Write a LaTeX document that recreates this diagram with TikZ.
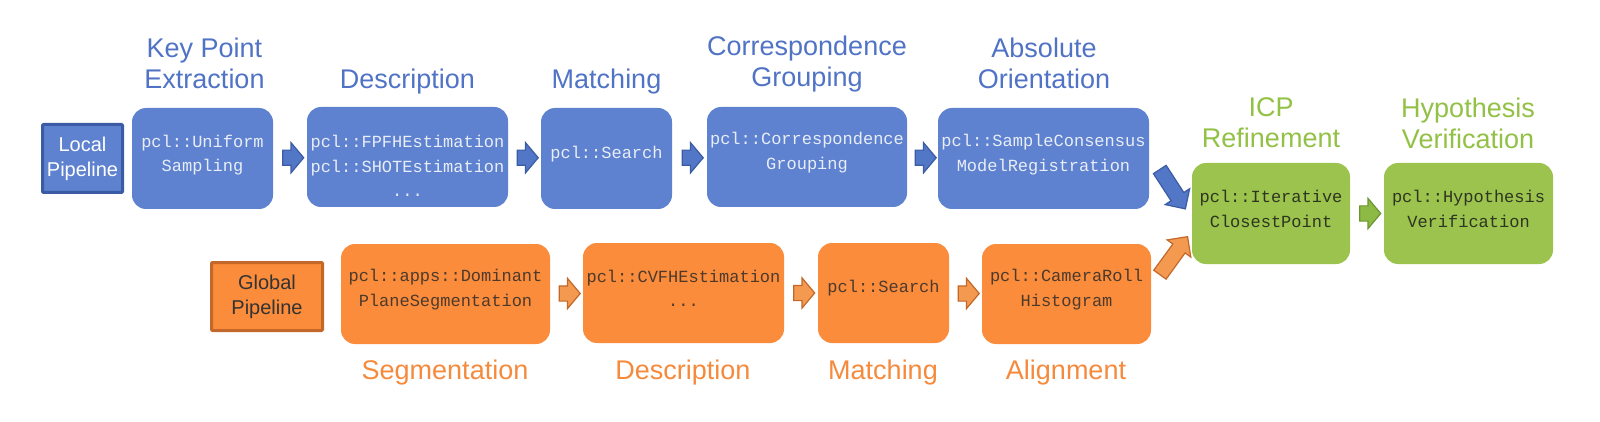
\documentclass[tikz,border=0pt]{standalone}
\usepackage{fontspec}
\setmainfont{Liberation Sans}
\setmonofont{Liberation Mono}
\usetikzlibrary{shapes.arrows,calc}
\definecolor{bfill}{HTML}{5E82CF}
\definecolor{bdark}{HTML}{3B5BA5}
\definecolor{barr}{HTML}{5277C6}
\definecolor{btitle}{HTML}{5073C6}
\definecolor{btxt}{HTML}{E8EDF7}
\definecolor{ofill}{HTML}{FA8C3B}
\definecolor{odark}{HTML}{C4672A}
\definecolor{oarr}{HTML}{F39A50}
\definecolor{otitle}{HTML}{F68A3C}
\definecolor{otxt}{HTML}{4D3A2C}
\definecolor{gfill}{HTML}{9BC34E}
\definecolor{gdark}{HTML}{6B9630}
\definecolor{garr}{HTML}{8DBA45}
\definecolor{gtitle}{HTML}{92C146}
\definecolor{gtxt}{HTML}{2E3520}
\begin{document}
\begin{tikzpicture}[x=1pt,y=-1pt,
  bx/.style={rounded corners=14pt, inner sep=0pt, draw=none},
  bbox/.style={bx, fill=bfill},
  obox/.style={bx, fill=ofill},
  gbox/.style={bx, fill=gfill},
  mono/.style={font=\ttfamily\fontsize{17}{24.5}\selectfont, align=center, inner sep=0pt},
  btext/.style={mono, text=btxt},
  otext/.style={mono, text=otxt},
  gtext/.style={mono, text=gtxt},
  title/.style={font=\fontsize{27}{31}\selectfont, align=center, inner sep=0pt},
  ptext/.style={font=\fontsize{20}{25}\selectfont, align=center, inner sep=0pt},
  arr/.style={single arrow, line width=1.2pt, minimum height=21pt,
    inner xsep=0pt, inner ysep=7pt, text height=0pt, text depth=0pt,
    single arrow head extend=7.5pt, single arrow tip angle=100},
  barrow/.style={arr, draw=bdark, fill=barr},
  oarrow/.style={arr, draw=odark, fill=oarr},
  garrow/.style={arr, draw=gdark, fill=garr},
  darr/.style={single arrow, line width=1.2pt, minimum height=47pt,
    inner xsep=0pt, inner ysep=7pt, text height=0pt, text depth=0pt,
    single arrow head extend=7pt, single arrow tip angle=90}
]
\fill[white] (0,0) rectangle (1600,422);
\useasboundingbox (0,0) rectangle (1600,422);

% local pipeline row
\node[draw=bdark, line width=3pt, fill=bfill, minimum width=80pt, minimum height=68pt, inner sep=0pt, rounded corners=1pt] (lp) at (82.5,158.5) {};
\node[ptext, text=white] at (lp.center) {Local\\Pipeline};

\node[bbox, minimum width=141pt, minimum height=101pt] (b1) at (202.5,158.5) {};
\node[bbox, minimum width=201pt, minimum height=100pt] (b2) at (407.5,157) {};
\node[bbox, minimum width=131pt, minimum height=101pt] (b3) at (606.5,158.5) {};
\node[bbox, minimum width=200pt, minimum height=100pt] (b4) at (807,157) {};
\node[bbox, minimum width=211pt, minimum height=101pt] (b5) at (1043.5,158.5) {};

\node[btext] at ($(b1.center)+(0,-3.5)$) {pcl::Uniform\\Sampling};
\node[btext] at ($(b2.center)+(0,9)$) {pcl::FPFHEstimation\\pcl::SHOTEstimation\\...};
\node[btext] at ($(b3.center)+(0,-4)$) {pcl::Search};
\node[btext] at ($(b4.center)+(0,-4.5)$) {pcl::Correspondence\\Grouping};
\node[btext] at ($(b5.center)+(0,-4)$) {pcl::SampleConsensus\\ModelRegistration};

\node[title, text=btitle] at (204.5,63.5) {Key Point\\Extraction};
\node[title, text=btitle] at (407.5,82) {Description};
\node[title, text=btitle] at (606.5,82) {Matching};
\node[title, text=btitle] at (807,64) {Correspondence\\Grouping};
\node[title, text=btitle] at (1044,63.5) {Absolute\\Orientation};

\node[barrow] at ($(b1.east)!0.5!(b2.west)$) {};
\node[barrow] at ($(b2.east)!0.5!(b3.west)$) {};
\node[barrow] at ($(b3.east)!0.5!(b4.west)$) {};
\node[barrow] at ($(b4.east)!0.5!(b5.west)$) {};

% refinement / verification
\node[gbox, minimum width=158pt, minimum height=101pt] (icp) at (1271,213.5) {};
\node[gbox, minimum width=169pt, minimum height=101pt] (hv) at (1468.5,213.5) {};
\node[gtext] at ($(icp.center)+(0,-4.5)$) {pcl::Iterative\\ClosestPoint};
\node[gtext] at ($(hv.center)+(0,-4.5)$) {pcl::Hypothesis\\Verification};
\node[title, text=gtitle] at (1271,123) {ICP\\Refinement};
\node[title, text=gtitle] at (1468,123) {Hypothesis\\Verification};
\node[garrow] at ($(icp.east)!0.5!(hv.west)$) {};

% global pipeline row
\node[draw=odark, line width=3pt, fill=ofill, minimum width=111pt, minimum height=68pt, inner sep=0pt, rounded corners=1pt] (gp) at (267,296.5) {};
\node[ptext, text=black!80] at (gp.center) {Global\\Pipeline};

\node[obox, minimum width=209pt, minimum height=100pt] (g1) at (445.5,294) {};
\node[obox, minimum width=201pt, minimum height=100pt] (g2) at (683.5,293) {};
\node[obox, minimum width=131pt, minimum height=100pt] (g3) at (883.5,293) {};
\node[obox, minimum width=169pt, minimum height=100pt] (g4) at (1066.5,294) {};

\node[otext] at ($(g1.center)+(0,-4.5)$) {pcl::apps::Dominant\\PlaneSegmentation};
\node[otext] at ($(g2.center)+(0,-4.5)$) {pcl::CVFHEstimation\\...};
\node[otext] at ($(g3.center)+(0,-5)$) {pcl::Search};
\node[otext] at ($(g4.center)+(0,-4.5)$) {pcl::CameraRoll\\Histogram};

\node[title, text=otitle] at (445,373) {Segmentation};
\node[title, text=otitle] at (683,373) {Description};
\node[title, text=otitle] at (883,373) {Matching};
\node[title, text=otitle] at (1066,373) {Alignment};

\node[oarrow] at ($(g1.east)!0.5!(g2.west)$) {};
\node[oarrow] at ($(g2.east)!0.5!(g3.west)$) {};
\node[oarrow] at ($(g3.east)!0.5!(g4.west)$) {};

% joining arrows
\node[darr, draw=bdark, fill=barr, rotate=-57] at ($(b5.east)!0.5!(icp.west)$) {};
\node[darr, draw=odark, fill=oarr, rotate=54] at ($(g4.east)!0.5!(icp.west)+(0,5)$) {};
\end{tikzpicture}
\end{document}
